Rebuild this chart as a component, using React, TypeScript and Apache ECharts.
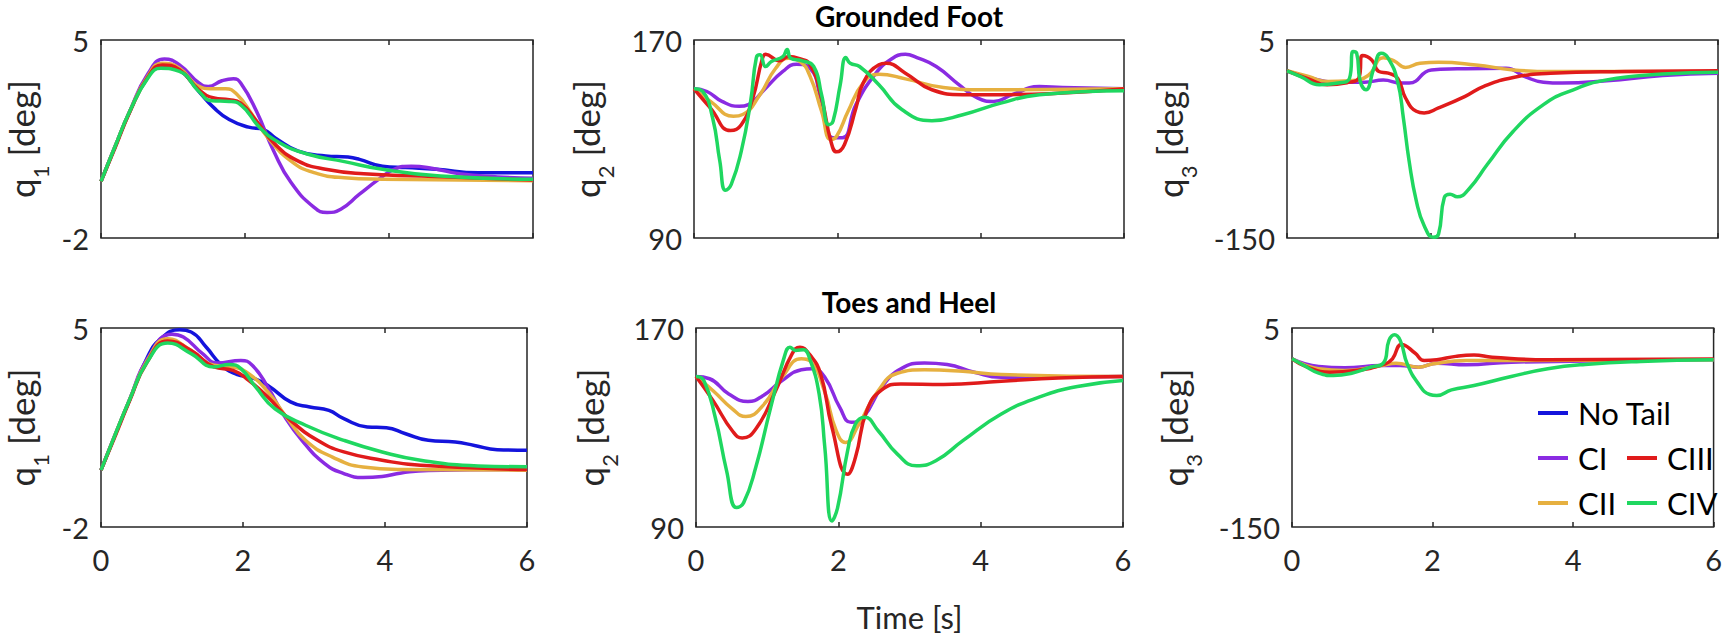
import React, { useEffect, useRef } from 'react';
import * as echarts from 'echarts';

const FONT = 'Lato';
const AX = '#262626';
const T_TICKS = [0, 2, 4, 6];
const NAMES = ['No Tail', 'CI', 'CII', 'CIII', 'CIV'];
const COLORS = ['#1414dc', '#8a2be2', '#e6b040', '#e01b1b', '#1fd760'];
const PANEL_TITLES = ['Grounded Foot', 'Toes and Heel'];
const X_LABEL = 'Time [s]';

// ---- Grounded Foot, q1 ----
const GF_Q1_NOTAIL = [[0,0],[0.19,1.2],[0.4,2.48],[0.65,3.7],[0.85,4.12],[1.09,3.95],[1.36,3.18],[1.57,2.6],[1.78,2.19],[2.05,1.92],[2.26,1.83],[2.42,1.54],[2.74,1.07],[3.12,0.9],[3.43,0.86],[3.59,0.78],[3.91,0.54],[4.23,0.49],[4.66,0.43],[5.24,0.31],[6,0.31]];
const GF_Q1_CI = [[0,0],[0.19,1.2],[0.4,2.48],[0.65,3.8],[0.88,4.33],[1.09,4.12],[1.36,3.48],[1.49,3.36],[1.68,3.56],[1.84,3.63],[1.94,3.48],[2.16,2.48],[2.4,1.07],[2.64,-0.04],[2.96,-0.92],[3.14,-1.1],[3.33,-0.98],[3.59,-0.45],[3.86,0.08],[4.07,0.43],[4.31,0.54],[4.61,0.46],[4.98,0.27],[5.51,0.16],[6,0.11]];
const GF_Q1_CII = [[0,0],[0.19,1.2],[0.4,2.48],[0.65,3.72],[0.85,4.18],[1.09,4.0],[1.36,3.36],[1.52,3.28],[1.73,3.28],[1.89,3.07],[2.1,2.36],[2.32,1.54],[2.64,0.72],[2.96,0.31],[3.38,0.13],[3.91,0.08],[6,0.02]];
const GF_Q1_CIII = [[0,0],[0.19,1.15],[0.4,2.45],[0.65,3.68],[0.85,4.12],[1.09,3.95],[1.36,3.24],[1.57,2.95],[1.78,2.89],[1.94,2.77],[2.16,2.13],[2.42,1.31],[2.74,0.72],[3.12,0.43],[3.65,0.27],[4.45,0.19],[6,0.05]];
const GF_Q1_CIV = [[0,0],[0.19,1.2],[0.4,2.48],[0.65,3.65],[0.83,4.0],[1.09,3.89],[1.36,3.18],[1.54,2.85],[1.78,2.83],[1.94,2.71],[2.21,1.89],[2.48,1.37],[2.85,0.98],[3.38,0.7],[3.91,0.43],[4.71,0.19],[6,0.08]];

// ---- Grounded Foot, q2 ----
const GF_Q2_CI = [[0,150.3],[0.18,149.2],[0.39,145.2],[0.63,143.2],[0.76,143.9],[0.98,149.9],[1.24,157.3],[1.43,160.2],[1.62,158.6],[1.78,145.2],[1.94,130.5],[2.07,130.5],[2.26,143.9],[2.52,155.9],[2.74,162],[2.95,164.2],[3.11,162.9],[3.38,159.3],[3.7,151.9],[3.96,146.5],[4.18,145.2],[4.44,147.9],[4.82,151.2],[5.14,150.8],[6,150.3]];
const GF_Q2_CII = [[0,150.3],[0.23,145.2],[0.55,139.2],[0.68,139.9],[0.92,147.9],[1.14,158.6],[1.32,162.6],[1.48,161.3],[1.62,155.3],[1.78,141.2],[1.91,129.8],[1.99,131.1],[2.15,141.2],[2.36,152.6],[2.58,156.2],[2.95,154.3],[3.48,150.8],[4.02,149.9],[6,150.3]];
const GF_Q2_CIII = [[0,150.3],[0.23,142.5],[0.51,133.4],[0.66,135.8],[0.82,146.5],[0.95,162],[1.0,164.2],[1.19,161.6],[1.32,163.3],[1.46,162.6],[1.62,160],[1.78,146.5],[1.91,129.1],[1.99,124.8],[2.1,127.8],[2.26,142.5],[2.36,152.6],[2.58,160],[2.68,160.6],[2.95,156.6],[3.32,149.9],[3.75,147.9],[4.28,147.9],[6,150.3]];
const GF_Q2_CIV = [[0,150.3],[0.12,149.2],[0.26,138.5],[0.36,121.1],[0.44,109.3],[0.52,111.7],[0.66,125.1],[0.79,145.2],[0.87,162.9],[0.92,164.0],[1.0,159.3],[1.08,161.3],[1.24,163.3],[1.3,166.2],[1.35,162.6],[1.51,161.6],[1.67,159.3],[1.78,147.9],[1.88,135.8],[1.94,137.2],[2.04,151.9],[2.12,162.9],[2.18,160.6],[2.31,159.3],[2.58,151.9],[2.9,141.9],[3.32,137.4],[3.75,139.8],[4.28,144.5],[4.82,147.9],[6,149.5]];

// ---- Grounded Foot, q3 ----
const GF_Q3_CI = [[0,-19.1],[0.3,-24.3],[0.66,-28],[1.08,-28],[1.34,-26.4],[1.59,-28.7],[1.7,-28.7],[2.01,-18.4],[2.37,-17.6],[3.05,-17.1],[3.31,-23.6],[3.57,-28],[3.83,-28.7],[4.45,-26.9],[5.23,-22.8],[6,-21]];
const GF_Q3_CII = [[0,-19.1],[0.3,-23.6],[0.56,-27.5],[0.87,-26.9],[1.13,-22.8],[1.34,-8.8],[1.49,-11.4],[1.65,-16.5],[1.85,-13.2],[2.11,-12.4],[2.63,-14.5],[3.15,-18.4],[3.67,-19.7],[6,-19.7]];
const GF_Q3_CIII = [[0,-19.1],[0.3,-25.4],[0.56,-30],[0.87,-28],[1.0,-24.9],[1.05,-7.2],[1.18,-10.6],[1.28,-19.7],[1.41,-21],[1.54,-24.9],[1.65,-40.4],[1.8,-50.8],[1.91,-52.1],[2.11,-48.2],[2.48,-39.1],[2.74,-31.3],[3.15,-24.3],[3.67,-21],[4.71,-19.7],[6,-19.1]];
const GF_Q3_CIV = [[0,-19.1],[0.19,-23.6],[0.45,-30],[0.71,-28.7],[0.87,-24.9],[0.92,-4.1],[0.97,-5.4],[1.02,-27.5],[1.1,-33.9],[1.21,-17.1],[1.31,-5.4],[1.41,-9.3],[1.54,-27.5],[1.62,-56],[1.7,-89.8],[1.8,-120.9],[1.91,-140.4],[2.04,-149.5],[2.11,-146.9],[2.19,-118.3],[2.27,-115.7],[2.37,-117.8],[2.53,-111.8],[2.79,-92.3],[3.15,-66.4],[3.57,-45.6],[3.93,-35.2],[4.45,-26.2],[5.23,-21.7],[6,-20.2]];

// ---- Toes and Heel, q1 ----
const TH_Q1_NOTAIL = [[0,0],[0.2,1.25],[0.4,2.46],[0.65,3.95],[0.84,4.62],[1.11,4.94],[1.27,4.86],[1.48,4.33],[1.7,3.69],[1.91,3.37],[2.13,3.25],[2.35,2.98],[2.67,2.4],[2.94,2.22],[3.21,2.1],[3.42,1.81],[3.75,1.52],[4.02,1.49],[4.29,1.28],[4.61,1.05],[4.99,0.99],[5.26,0.87],[5.58,0.72],[6,0.7]];
const TH_Q1_CI = [[0,0],[0.2,1.25],[0.4,2.46],[0.65,3.9],[1.0,4.78],[1.16,4.68],[1.43,4.1],[1.64,3.77],[1.97,3.86],[2.13,3.69],[2.35,2.92],[2.56,1.99],[2.83,1.05],[3.15,0.23],[3.42,-0.12],[3.69,-0.26],[3.96,-0.22],[4.23,-0.1],[4.61,-0.01],[6,0.02]];
const TH_Q1_CII = [[0,0],[0.2,1.25],[0.4,2.46],[0.65,3.85],[0.94,4.62],[1.27,4.21],[1.59,3.69],[1.86,3.63],[2.08,3.39],[2.35,2.75],[2.61,1.87],[2.88,1.05],[3.26,0.46],[3.69,0.11],[4.23,0.02],[6,0]];
const TH_Q1_CIII = [[0,0],[0.2,1.2],[0.4,2.42],[0.65,3.8],[0.94,4.54],[1.27,4.21],[1.59,3.63],[1.86,3.51],[2.08,3.16],[2.35,2.57],[2.67,1.75],[3.05,1.05],[3.42,0.64],[3.96,0.35],[4.5,0.17],[6,0.02]];
const TH_Q1_CIV = [[0,0],[0.2,1.25],[0.4,2.46],[0.65,3.8],[0.94,4.47],[1.27,4.1],[1.59,3.63],[1.81,3.72],[1.97,3.57],[2.18,2.92],[2.45,2.16],[2.88,1.58],[3.42,1.05],[3.96,0.64],[4.5,0.35],[5.31,0.15],[6,0.12]];

// ---- Toes and Heel, q2 ----
const TH_Q2_CI = [[0,150.5],[0.19,149.6],[0.46,143.5],[0.73,140.5],[0.94,142.8],[1.21,148.9],[1.48,153.2],[1.64,153.6],[1.81,150.2],[2.02,138.1],[2.18,132.1],[2.35,134.1],[2.61,146.2],[2.88,153.6],[3.21,155.9],[3.53,155.3],[3.91,152.2],[4.29,150.2],[6,150.5]];
const TH_Q2_CII = [[0,150.5],[0.24,144.8],[0.51,137.5],[0.7,134.4],[0.94,138.8],[1.21,150.2],[1.48,157.6],[1.62,156.3],[1.81,144.2],[1.97,128.7],[2.1,124],[2.29,131.4],[2.56,144.8],[2.83,151.8],[3.21,153.2],[3.75,152.6],[4.29,151.3],[6,150.5]];
const TH_Q2_CIII = [[0,150.5],[0.24,140.8],[0.51,128.7],[0.65,125.8],[0.84,129.4],[1.11,144.2],[1.35,159.6],[1.46,162.3],[1.59,159.6],[1.75,151.6],[1.91,130.1],[2.13,111.2],[2.24,117.9],[2.4,136.8],[2.61,145.1],[2.88,147.5],[3.48,147.3],[4.29,148.6],[5.09,149.9],[6,150.5]];
const TH_Q2_CIV = [[0,150.5],[0.11,148.9],[0.27,134.1],[0.43,112.6],[0.57,97.8],[0.67,99.8],[0.84,114],[1.05,138.1],[1.24,158.3],[1.32,162.3],[1.4,161],[1.51,161.3],[1.59,158.3],[1.73,143.5],[1.81,122],[1.91,92.4],[1.99,97.8],[2.13,120.6],[2.24,131.4],[2.37,134.1],[2.56,128.7],[2.83,119.3],[3.1,114.6],[3.37,116.6],[3.75,124.7],[4.29,135.4],[4.82,142.2],[5.36,146.5],[6,148.9]];

// ---- Toes and Heel, q3 ----
const TH_Q3_CI = [[0,-19],[0.38,-25],[0.75,-26],[1.27,-24.2],[1.54,-24.2],[1.8,-25.5],[2.06,-22.4],[2.48,-23.7],[3.12,-21.6],[6,-19.7]];
const TH_Q3_CII = [[0,-19],[0.38,-26.8],[0.75,-28.1],[1.27,-24.2],[1.48,-22.4],[1.8,-25.5],[2.01,-22.9],[2.48,-20.3],[3.12,-20.3],[6,-19.7]];
const TH_Q3_CIII = [[0,-19],[0.22,-25.5],[0.54,-29.4],[0.91,-28.1],[1.33,-22.9],[1.43,-19],[1.56,-7.8],[1.75,-14.5],[1.88,-20.3],[2.06,-19.7],[2.33,-17.1],[2.59,-16.1],[2.85,-17.7],[3.64,-19.7],[6,-19.2]];
const TH_Q3_CIV = [[0,-19],[0.17,-24.2],[0.38,-30.2],[0.59,-32],[0.85,-30.2],[1.12,-25.5],[1.3,-22.4],[1.38,-4.6],[1.46,-0.2],[1.54,-4.6],[1.64,-22.9],[1.8,-38.5],[1.96,-46.8],[2.06,-47.6],[2.27,-43.2],[2.59,-39.8],[3.12,-32.8],[3.64,-26.8],[4.17,-23.4],[4.96,-21],[6,-19.7]];

const Y_RANGES = [[-2, 5], [90, 170], [-150, 5]];
const SUBS = ['1', '2', '3'];

type Panel = { left: number; top: number; width: number; height: number; col: number; bottom: boolean; nameGap: number; data: (number[][] | null)[] };

const PANELS: Panel[] = [
  { left: 101, top: 40, width: 432, height: 198, col: 0, bottom: false, nameGap: 50, data: [GF_Q1_NOTAIL, GF_Q1_CI, GF_Q1_CII, GF_Q1_CIII, GF_Q1_CIV] },
  { left: 694, top: 40, width: 430, height: 198, col: 1, bottom: false, nameGap: 78, data: [null, GF_Q2_CI, GF_Q2_CII, GF_Q2_CIII, GF_Q2_CIV] },
  { left: 1287, top: 40, width: 431, height: 198, col: 2, bottom: false, nameGap: 88, data: [null, GF_Q3_CI, GF_Q3_CII, GF_Q3_CIII, GF_Q3_CIV] },
  { left: 101, top: 328, width: 426, height: 199, col: 0, bottom: true, nameGap: 50, data: [TH_Q1_NOTAIL, TH_Q1_CI, TH_Q1_CII, TH_Q1_CIII, TH_Q1_CIV] },
  { left: 696, top: 328, width: 427, height: 199, col: 1, bottom: true, nameGap: 76, data: [null, TH_Q2_CI, TH_Q2_CII, TH_Q2_CIII, TH_Q2_CIV] },
  { left: 1292, top: 328, width: 426, height: 199, col: 2, bottom: true, nameGap: 88, data: [null, TH_Q3_CI, TH_Q3_CII, TH_Q3_CIII, TH_Q3_CIV] },
];

function buildOption() {
  const grid: any[] = [];
  const xAxis: any[] = [];
  const yAxis: any[] = [];
  const series: any[] = [];
  PANELS.forEach((p, i) => {
    grid.push({ left: p.left, top: p.top, width: p.width, height: p.height, show: true, borderColor: AX, borderWidth: 1.5, backgroundColor: '#fff' });
    const [ymin, ymax] = Y_RANGES[p.col];
    xAxis.push({
      type: 'value', gridIndex: i, min: 0, max: 6, interval: 2, position: 'bottom',
      axisLine: { show: false, onZero: false }, splitLine: { show: false },
      axisTick: { show: true, inside: true, length: 5, lineStyle: { color: AX, width: 1.5 } },
      axisLabel: { show: p.bottom, margin: 18, fontSize: 29, fontFamily: FONT, color: AX, customValues: T_TICKS },
      name: p.bottom && p.col === 1 ? X_LABEL : '', nameLocation: 'middle', nameGap: 74,
      nameTextStyle: { fontSize: 31, fontFamily: FONT, color: AX },
    });
    yAxis.push({
      type: 'value', gridIndex: i, min: ymin, max: ymax,
      axisLine: { show: false, onZero: false }, splitLine: { show: false }, axisTick: { show: false },
      axisLabel: { show: true, margin: 12, fontSize: 29, fontFamily: FONT, color: AX, customValues: [ymin, ymax] },
      name: `{q|q}{s|${SUBS[p.col]}}{q| [deg]}`, nameLocation: 'middle', nameGap: p.nameGap,
      nameTextStyle: {
        color: AX,
        rich: {
          q: { fontSize: 35, fontFamily: FONT, color: AX, lineHeight: 35, verticalAlign: 'top' },
          s: { fontSize: 22, fontFamily: FONT, color: AX, lineHeight: 48, verticalAlign: 'bottom' },
        },
      },
    });
    p.data.forEach((d, k) => {
      if (!d) return;
      series.push({
        type: 'line', name: NAMES[k], xAxisIndex: i, yAxisIndex: i, data: d,
        showSymbol: false, symbol: 'none', smooth: 0.5, color: COLORS[k],
        lineStyle: { color: COLORS[k], width: 3.5 }, z: 2 + k, clip: true,
      });
    });
  });
  // top-edge tick marks
  PANELS.forEach((p, i) => {
    xAxis.push({
      type: 'value', gridIndex: i, min: 0, max: 6, interval: 2, position: 'top',
      axisLine: { show: false, onZero: false }, splitLine: { show: false },
      axisTick: { show: true, inside: true, length: 5, lineStyle: { color: AX, width: 1.5 } },
      axisLabel: { show: false },
    });
  });

  const legendText = { fontSize: 31, fontFamily: FONT, color: '#000', lineHeight: 36, padding: [0, 0, 0, 5] };
  const legend = [
    { data: ['No Tail', 'CI', 'CII'], orient: 'vertical', left: 1538, top: 395, padding: 0, itemGap: 9, itemWidth: 30, itemHeight: 4, icon: 'rect', textStyle: legendText, selectedMode: false },
    { data: ['CIII', 'CIV'], orient: 'vertical', left: 1627, top: 440, padding: 0, itemGap: 9, itemWidth: 30, itemHeight: 4, icon: 'rect', textStyle: legendText, selectedMode: false },
  ];

  const graphic = [
    { type: 'text', x: 909, y: 16, style: { text: PANEL_TITLES[0], fontSize: 28, fontWeight: 'bold', fontFamily: FONT, fill: '#000', textAlign: 'center', textVerticalAlign: 'middle' } },
    { type: 'text', x: 909, y: 302, style: { text: PANEL_TITLES[1], fontSize: 28, fontWeight: 'bold', fontFamily: FONT, fill: '#000', textAlign: 'center', textVerticalAlign: 'middle' } },
  ];

  return { animation: false, backgroundColor: '#fff', grid, xAxis, yAxis, series, legend, graphic };
}

export default function App() {
  const ref = useRef<HTMLDivElement>(null);
  useEffect(() => {
    document.body.style.margin = '0';
    const chart = echarts.init(ref.current!, undefined, { renderer: 'svg' });
    chart.setOption(buildOption() as any);
    return () => chart.dispose();
  }, []);
  return <div ref={ref} style={{ position: 'absolute', left: 0, top: 0, width: 1725, height: 636 }} />;
}
